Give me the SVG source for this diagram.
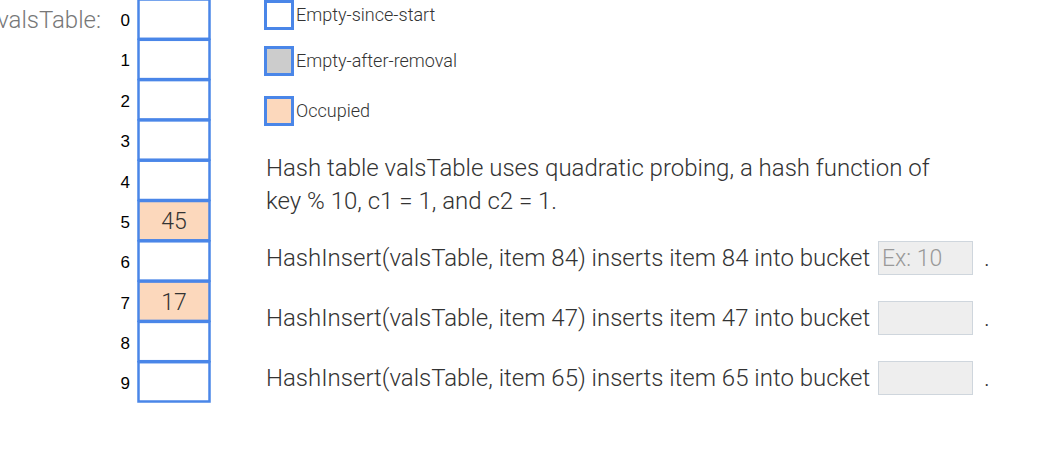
<svg xmlns="http://www.w3.org/2000/svg" width="1051" height="466" viewBox="0 0 1051 466">
<style>
.cell{fill:#ffffff;stroke:#4a86e8;stroke-width:2.5}
.occ{fill:#fcd8bc}
.idx{font-family:"Liberation Sans",Arial,sans-serif;font-size:17px;fill:#000;text-anchor:end}
.val{font-family:Roboto,"Liberation Sans",sans-serif;font-weight:300;font-size:23px;fill:#333;text-anchor:middle}
.leg{font-family:Roboto,"Liberation Sans",sans-serif;font-weight:300;font-size:18px;fill:#333}
.txt{font-family:Roboto,"Liberation Sans",sans-serif;font-weight:300;font-size:24px;fill:#333}
.inp{fill:#eeeeee;stroke:#cfd6dd;stroke-width:1}
.lsq{stroke:#4a86e8;stroke-width:3}
</style>
<rect width="1051" height="466" fill="#ffffff"/>
<text x="101" y="28" font-family="Roboto,'Liberation Sans',sans-serif" font-weight="300" font-size="24" fill="#777" text-anchor="end">valsTable:</text>
<g id="table">
<g id="cell0"><rect class="cell" x="138.5" y="-0.5" width="71" height="39.3"/><text class="idx" x="130" y="26">0</text></g>
<g id="cell1"><rect class="cell" x="138.5" y="39.8" width="71" height="39.3"/><text class="idx" x="130" y="66">1</text></g>
<g id="cell2"><rect class="cell" x="138.5" y="80.1" width="71" height="39.3"/><text class="idx" x="130" y="107">2</text></g>
<g id="cell3"><rect class="cell" x="138.5" y="120.4" width="71" height="39.3"/><text class="idx" x="130" y="147">3</text></g>
<g id="cell4"><rect class="cell" x="138.5" y="160.7" width="71" height="39.3"/><text class="idx" x="130" y="188">4</text></g>
<g id="cell5"><rect class="cell occ" x="138.5" y="201" width="71" height="39.3"/><text class="idx" x="130" y="228">5</text><text class="val" x="174" y="229">45</text></g>
<g id="cell6"><rect class="cell" x="138.5" y="241.3" width="71" height="39.3"/><text class="idx" x="130" y="268">6</text></g>
<g id="cell7"><rect class="cell occ" x="138.5" y="281.6" width="71" height="39.3"/><text class="idx" x="130" y="309">7</text><text class="val" x="174" y="310">17</text></g>
<g id="cell8"><rect class="cell" x="138.5" y="321.9" width="71" height="39.3"/><text class="idx" x="130" y="349">8</text></g>
<g id="cell9"><rect class="cell" x="138.5" y="362.2" width="71" height="39.3"/><text class="idx" x="130" y="389">9</text></g>
</g>
<g id="legend">
<g id="leg1"><rect class="lsq" x="265.5" y="1.5" width="27" height="27" fill="#ffffff"/><text class="leg" x="296" y="21">Empty-since-start</text></g>
<g id="leg2"><rect class="lsq" x="265.5" y="47.5" width="27" height="27" fill="#cccccc"/><text class="leg" x="296" y="67">Empty-after-removal</text></g>
<g id="leg3"><rect class="lsq" x="265.5" y="97.5" width="27" height="27" fill="#fcd8bc"/><text class="leg" x="296" y="117">Occupied</text></g>
</g>
<g id="description">
<text class="txt" x="266" y="176">Hash table valsTable uses quadratic probing, a hash function of</text>
<text class="txt" x="266" y="209">key % 10, c1 = 1, and c2 = 1.</text>
</g>
<g id="q1"><text class="txt" x="266" y="266">HashInsert(valsTable, item 84) inserts item 84 into bucket</text><rect class="inp" x="878.5" y="241.5" width="94" height="33"/><text x="882" y="266" font-family="Roboto,'Liberation Sans',sans-serif" font-weight="300" font-size="23" fill="#999">Ex: 10</text><text class="txt" x="984" y="266">.</text></g>
<g id="q2"><text class="txt" x="266" y="326">HashInsert(valsTable, item 47) inserts item 47 into bucket</text><rect class="inp" x="878.5" y="301.5" width="94" height="33"/><text class="txt" x="984" y="326">.</text></g>
<g id="q3"><text class="txt" x="266" y="386">HashInsert(valsTable, item 65) inserts item 65 into bucket</text><rect class="inp" x="878.5" y="361.5" width="94" height="33"/><text class="txt" x="984" y="386">.</text></g>
</svg>
